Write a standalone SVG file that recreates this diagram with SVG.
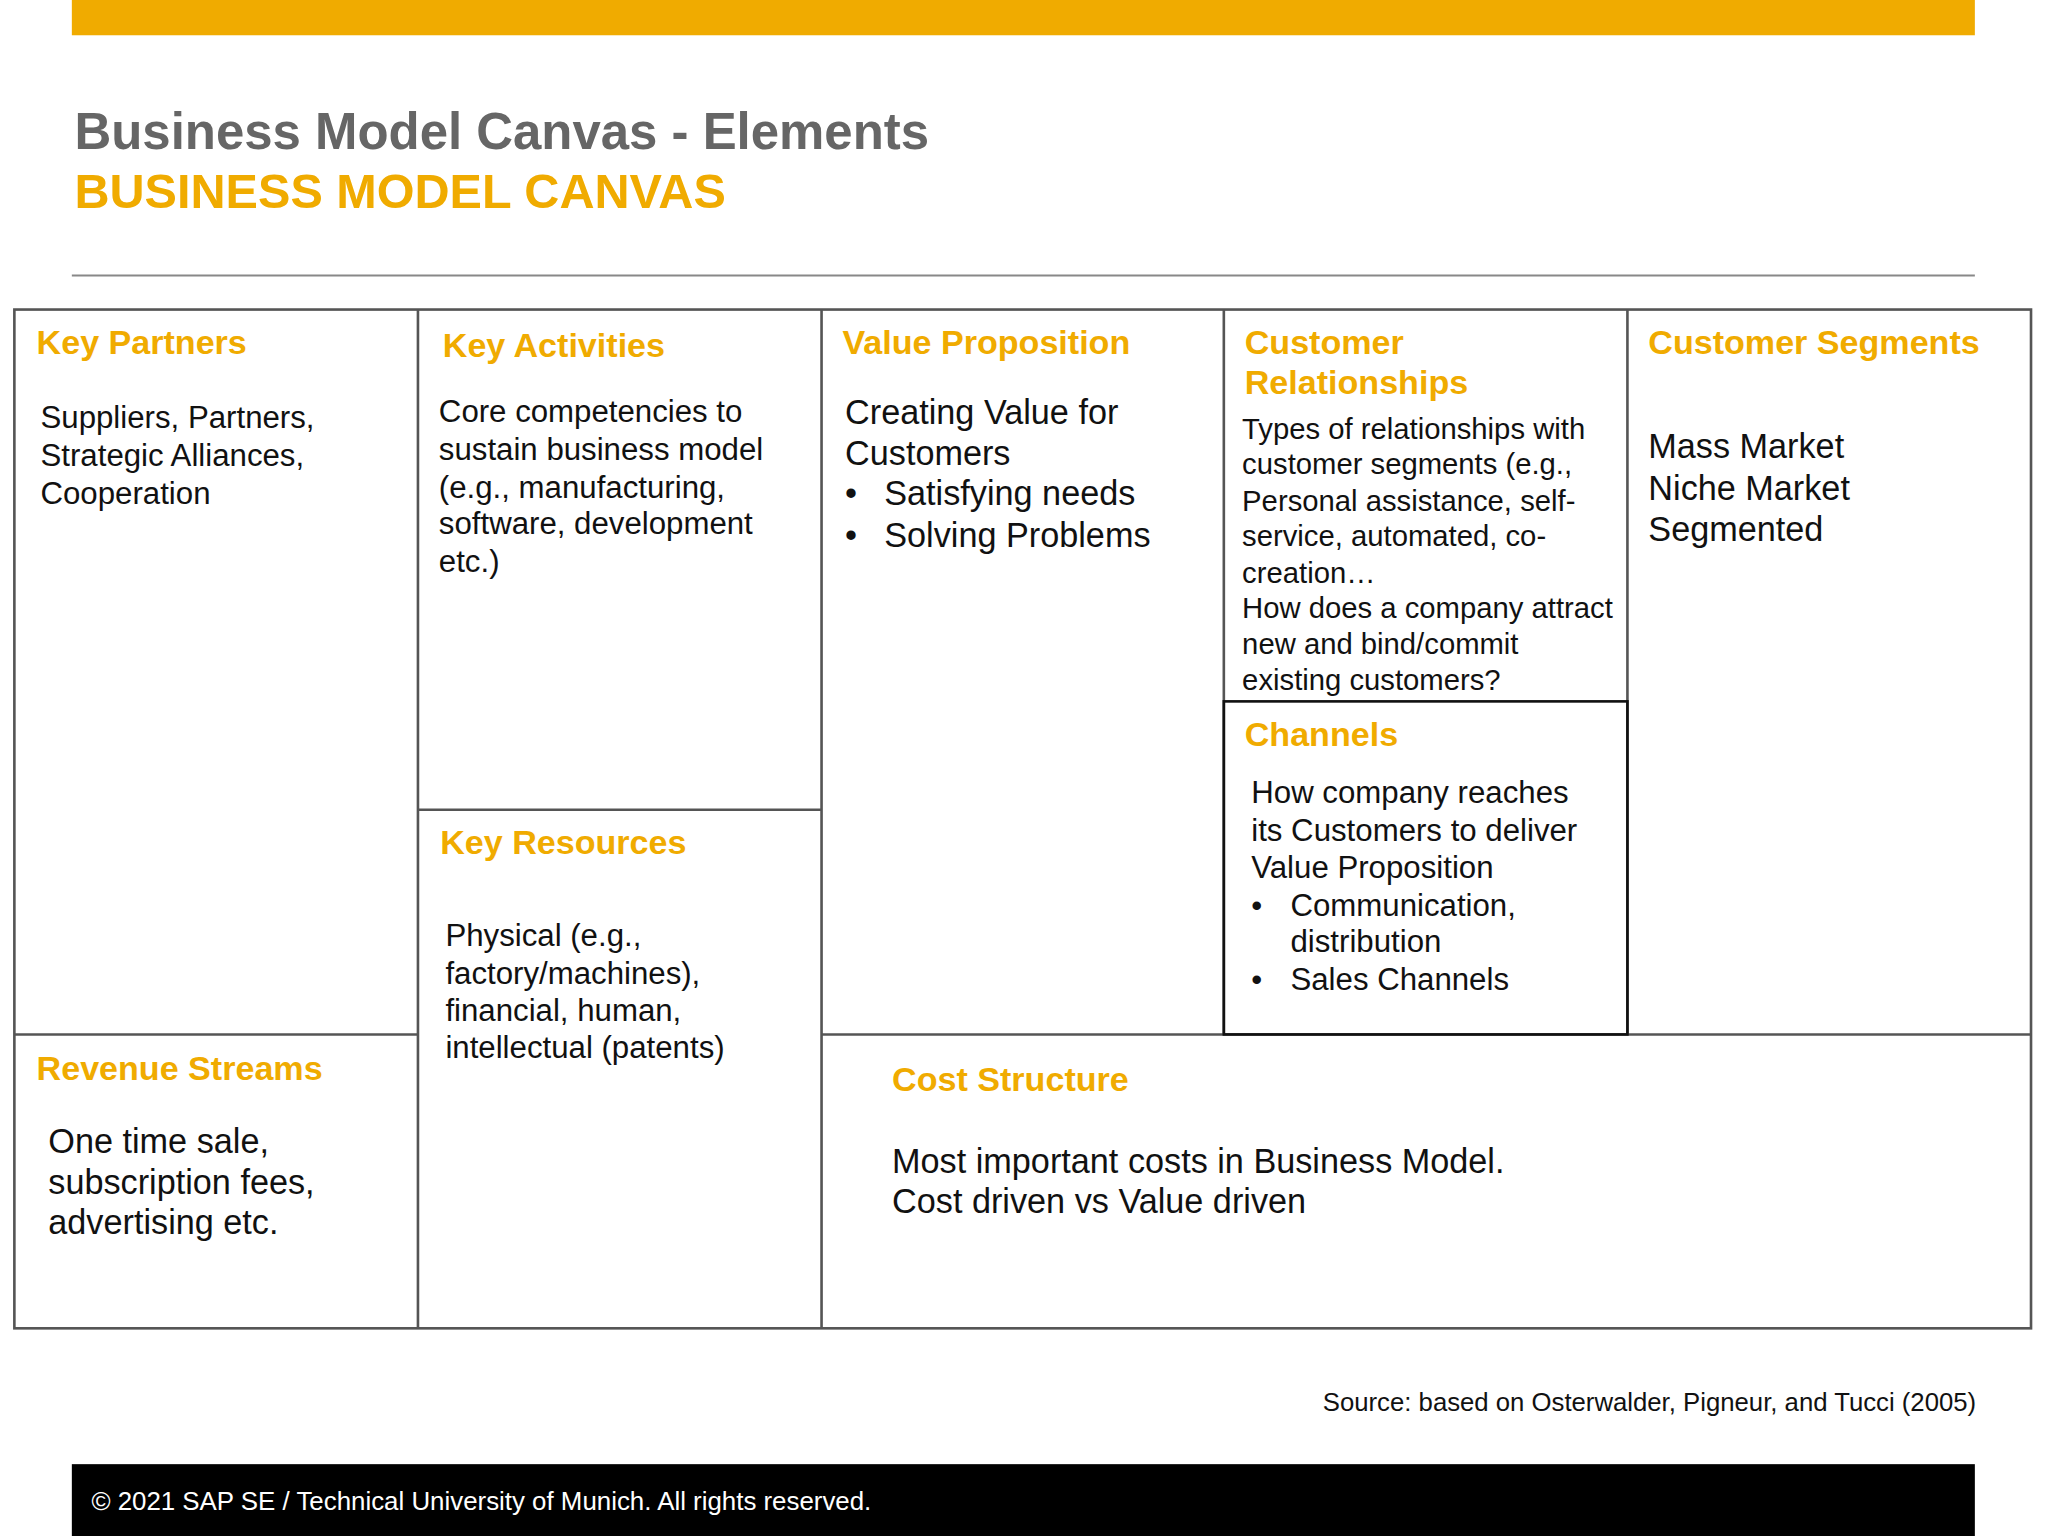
<svg xmlns="http://www.w3.org/2000/svg" width="2048" height="1536" viewBox="0 0 2048 1536">
<style>
text{font-family:"Liberation Sans",Arial,sans-serif}
.h{font-weight:bold;fill:#F0AB00;font-size:26.1px}
.b{fill:#111;font-size:23.9px}
.s{fill:#111;font-size:22.4px}
.l{fill:#111;font-size:26.2px}
.ln{stroke:#555;stroke-width:2;fill:none}
</style>
<rect width="2048" height="1536" fill="#fff"/>
<g transform="scale(1.30612)">
<rect x="55" y="0" width="1457" height="27" fill="#F0AB00"/>
<text x="57" y="114" font-size="39" font-weight="bold" fill="#666">Business Model Canvas - Elements</text>
<text x="57" y="159" font-size="37.2" font-weight="bold" fill="#F0AB00">BUSINESS MODEL CANVAS</text>
<line x1="55" y1="211" x2="1512" y2="211" stroke="#888" stroke-width="1.5"/>
<g id="grid">
<rect class="ln" x="11" y="237" width="1544" height="780"/>
<line class="ln" x1="320" y1="237" x2="320" y2="1017"/>
<line class="ln" x1="629" y1="237" x2="629" y2="1017"/>
<line class="ln" x1="937" y1="237" x2="937" y2="792"/>
<line class="ln" x1="1246" y1="237" x2="1246" y2="792"/>
<line class="ln" x1="11" y1="792" x2="320" y2="792"/>
<line class="ln" x1="629" y1="792" x2="1555" y2="792"/>
<line class="ln" x1="320" y1="620" x2="629" y2="620"/>
<rect x="937" y="537" width="309" height="255" fill="none" stroke="#111" stroke-width="2"/>
</g>
<g id="keypartners"><text class="h" x="28" y="271">Key Partners</text>
<text class="b" x="31" y="328">Suppliers, Partners,</text><text class="b" x="31" y="357">Strategic Alliances,</text><text class="b" x="31" y="386">Cooperation</text></g>
<g id="keyactivities"><text class="h" x="339" y="273">Key Activities</text>
<text class="b" x="336" y="323">Core competencies to</text><text class="b" x="336" y="352">sustain business model</text><text class="b" x="336" y="381">(e.g., manufacturing,</text><text class="b" x="336" y="409">software, development</text><text class="b" x="336" y="438">etc.)</text></g>
<g id="valueprop"><text class="h" x="645" y="271">Value Proposition</text>
<text class="l" x="647" y="325">Creating Value for</text><text class="l" x="647" y="356">Customers</text>
<text class="l" x="647" y="387">•</text><text class="l" x="677" y="387">Satisfying needs</text>
<text class="l" x="647" y="419">•</text><text class="l" x="677" y="419">Solving Problems</text></g>
<g id="custrel"><text class="h" x="953" y="271">Customer</text><text class="h" x="953" y="302">Relationships</text>
<text class="s" x="951" y="336">Types of relationships with</text><text class="s" x="951" y="363">customer segments (e.g.,</text><text class="s" x="951" y="391">Personal assistance, self-</text><text class="s" x="951" y="418">service, automated, co-</text><text class="s" x="951" y="446">creation…</text><text class="s" x="951" y="473">How does a company attract</text><text class="s" x="951" y="501">new and bind/commit</text><text class="s" x="951" y="528">existing customers?</text></g>
<g id="custseg"><text class="h" x="1262" y="271">Customer Segments</text>
<text class="l" x="1262" y="351">Mass Market</text><text class="l" x="1262" y="383">Niche Market</text><text class="l" x="1262" y="414">Segmented</text></g>
<g id="channels"><text class="h" x="953" y="571">Channels</text>
<text class="b" x="958" y="615">How company reaches</text><text class="b" x="958" y="644">its Customers to deliver</text><text class="b" x="958" y="672">Value Proposition</text>
<text class="b" x="958" y="701">•</text><text class="b" x="988" y="701">Communication,</text><text class="b" x="988" y="729">distribution</text>
<text class="b" x="958" y="758">•</text><text class="b" x="988" y="758">Sales Channels</text></g>
<g id="keyresources"><text class="h" x="337" y="654">Key Resources</text>
<text class="b" x="341" y="724">Physical (e.g.,</text><text class="b" x="341" y="753">factory/machines),</text><text class="b" x="341" y="782">financial, human,</text><text class="b" x="341" y="810">intellectual (patents)</text></g>
<g id="revenue"><text class="h" x="28" y="827">Revenue Streams</text>
<text class="l" x="37" y="883">One time sale,</text><text class="l" x="37" y="914">subscription fees,</text><text class="l" x="37" y="945">advertising etc.</text></g>
<g id="cost"><text class="h" x="683" y="835">Cost Structure</text>
<text class="l" x="683" y="898">Most important costs in Business Model.</text><text class="l" x="683" y="929">Cost driven vs Value driven</text></g>
<text x="1513" y="1080" font-size="19.7" fill="#111" text-anchor="end">Source: based on Osterwalder, Pigneur, and Tucci (2005)</text>
<rect x="55" y="1121" width="1457" height="55" fill="#000"/>
<text x="70" y="1156" font-size="19.8" fill="#fff">© 2021 SAP SE / Technical University of Munich. All rights reserved.</text>
</g>
</svg>
